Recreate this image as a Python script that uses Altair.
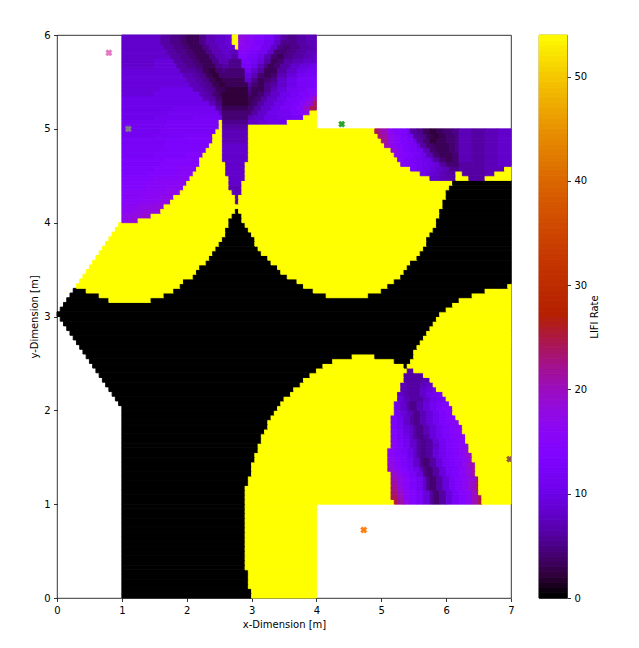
import altair as alt
import pandas as pd

# Each row is one 0.05 m band, bottom to top. "a:v" = from a (1/20 m) the rate is v; last token = end of row.
rows = [
"20:0 60:54 80","20:0 60:54 80","20:0 59:54 80","20:0 59:54 80","20:0 59:54 80","20:0 59:54 80",
"20:0 58:54 80","20:0 58:54 80","20:0 58:54 80","20:0 58:54 80","20:0 58:54 80","20:0 58:54 80",
"20:0 58:54 80","20:0 58:54 80","20:0 58:54 80","20:0 58:54 80","20:0 58:54 80","20:0 58:54 80",
"20:0 58:54 80","20:0 58:54 80",
"20:0 58:54 104:25 105:21 107:17 109:14 111:12 113:9 115:6 116:4 118:6 120:9 122:12 124:14 126:16 128:20 130:25 131:54 140",
"20:0 58:54 103:24 105:20 107:16 109:14 111:12 113:9 115:6 116:4 118:6 120:9 122:12 124:14 126:16 128:20 130:24 131:54 140",
"20:0 58:54 103:23 105:19 107:16 109:14 111:12 113:9 115:6 116:4 118:6 120:9 122:12 124:14 126:16 128:20 130:54 140",
"20:0 58:54 103:22 105:18 107:15 109:13 111:11 113:8 114:5 115:4 117:6 119:9 121:12 123:14 125:16 127:19 129:23 130:54 140",
"20:0 59:54 103:21 105:17 107:15 109:13 111:11 113:8 114:5 115:4 117:6 119:9 121:12 123:14 125:16 127:19 129:23 130:54 140",
"20:0 59:54 103:20 105:17 107:15 109:13 111:11 113:8 114:5 115:4 117:6 119:9 121:12 123:14 125:16 127:18 129:22 130:54 140",
"20:0 60:54 103:19 105:16 107:14 109:12 111:9 113:5 114:4 116:6 118:9 120:12 122:13 124:15 126:18 128:21 129:54 140",
"20:0 60:54 102:19 104:16 106:14 108:12 110:10 112:7 113:5 114:4 116:6 118:9 120:12 122:13 124:15 126:18 128:21 129:54 140",
"20:0 60:54 102:18 104:15 106:13 108:11 110:8 112:5 113:4 115:6 117:9 119:12 121:13 123:14 125:17 127:20 129:54 140",
"20:0 61:54 102:17 104:15 106:13 108:11 110:8 112:5 113:4 115:6 117:9 119:12 121:13 123:14 125:16 127:19 128:54 140",
"20:0 61:54 102:16 104:14 106:13 108:10 110:8 111:6 112:5 114:6 116:9 118:11 120:13 122:14 124:16 126:19 128:54 140",
"20:0 62:54 102:16 104:14 106:12 108:10 110:8 111:6 112:5 114:6 116:9 118:11 120:13 122:14 124:16 126:18 127:54 140",
"20:0 62:54 103:15 105:13 107:11 109:8 111:6 112:5 114:6 116:8 118:11 120:13 122:14 124:15 126:18 127:54 140",
"20:0 63:54 103:15 105:13 107:11 109:8 111:6 112:5 114:6 116:9 118:11 120:13 122:14 124:15 126:54 140",
"20:0 63:54 103:14 105:12 107:10 109:8 110:6 111:5 113:6 115:9 117:11 119:13 121:14 123:15 125:17 126:54 140",
"20:0 64:54 103:14 105:12 107:9 109:8 110:6 111:5 113:7 115:9 117:11 119:13 121:14 123:15 125:54 140",
"20:0 65:54 103:13 105:11 107:9 109:8 110:6 111:5 113:7 115:9 117:11 119:13 121:14 123:15 125:54 140",
"20:0 65:54 103:13 105:11 107:8 109:6 110:5 112:7 114:9 116:11 118:13 120:14 122:15 124:54 140",
"20:0 66:54 103:12 105:10 107:8 109:6 110:5 112:7 114:9 116:11 118:13 120:14 122:14 123:54 140",
"20:0 67:54 104:11 106:9 108:7 110:5 112:7 114:9 116:11 118:13 120:14 122:54 140",
"20:0 68:54 104:10 106:8 108:6 109:5 111:7 113:9 115:11 117:13 119:14 122:54 140",
"19:0 69:54 104:10 106:8 108:6 109:5 111:7 113:9 115:11 117:12 119:13 121:54 140",
"18:0 70:54 105:9 107:7 109:6 111:6 113:8 115:10 117:11 119:12 120:54 140",
"17:0 72:54 105:8 107:7 108:6 110:6 112:8 114:10 116:11 118:12 119:54 140",
"16:0 73:54 106:7 108:6 110:6 112:8 114:9 116:10 117:54 140",
"15:0 75:54 106:7 108:6 110:6 112:7 114:8 116:54 140",
"14:0 76:54 107:6 109:6 111:6 113:7 115:54 140",
"13:0 78:54 107:6 109:6 111:6 113:54 140",
"12:0 80:54 108:6 110:54 140",
"11:0 82:54 107:0 108:54 140",
"10:0 85:54 104:0 109:54 140",
"9:0 91:54 98:0 110:54 140",
"8:0 110:54 140","7:0 111:54 140","6:0 112:54 140","5:0 113:54 140","4:0 114:54 140",
"3:0 115:54 140","2:0 116:54 140","1:0 117:54 140","0:0 118:54 140","1:0 120:54 140","2:0 122:54 140",
"3:0 16:54 29:0 124:54 140",
"4:0 13:54 33:0 83:54 96:0 128:54 140",
"5:0 9:54 36:0 79:54 100:0 132:54 140",
"6:54 38:0 76:54 102:0 139:54 140",
"7:54 39:0 74:54 104:0 140",
"8:54 42:0 71:54 106:0 140",
"9:54 43:0 69:54 107:0 140",
"10:54 44:0 68:54 108:0 140",
"11:54 46:0 66:54 109:0 140",
"12:54 47:0 65:54 111:0 140",
"13:54 48:0 63:54 112:0 140",
"14:54 49:0 62:54 113:0 140",
"15:54 50:0 61:54 114:0 140",
"16:54 51:0 61:54 114:0 140",
"17:54 52:0 60:54 115:0 140",
"18:54 52:0 59:54 116:0 140",
"19:54 53:0 58:54 117:0 140",
"20:17 22:18 24:19 25:54 53:0 57:54 117:0 140",
"20:17 23:18 26:19 29:54 54:0 57:54 118:0 140",
"20:16 23:17 27:18 32:54 55:0 56:54 118:0 140",
"20:16 25:17 29:18 33:54 119:0 140",
"20:15 26:16 31:17 35:54 55:6 56:54 119:0 140",
"20:15 26:16 32:17 36:54 55:7 56:54 120:0 140",
"20:15 28:16 34:17 38:54 54:7 57:54 120:0 140",
"20:14 27:15 33:16 39:54 53:7 57:54 121:0 140",
"20:14 28:15 35:16 40:54 53:8 57:54 122:0 140",
"20:14 30:15 38:16 41:54 53:8 58:54 115:8 118:7 121:6 123:54 127:6 132:54 140",
"20:13 28:14 36:15 42:54 52:8 58:54 112:10 114:9 116:8 118:7 120:6 123:54 125:6 128:6 132:7 135:54 140",
"20:13 30:14 38:15 43:54 52:8 58:54 109:13 111:11 113:10 115:9 117:8 119:7 121:5 124:6 128:6 132:7 138:54 140",
"20:13 32:14 44:54 52:8 58:54 106:14 108:13 110:12 112:11 114:10 116:9 118:6 120:4 122:4 124:6 128:6 132:7 136:8 140",
"20:13 33:14 44:54 51:8 59:54 105:15 107:13 109:12 111:11 113:10 115:9 116:6 118:4 120:3 122:4 124:7 128:6 132:7 136:8 140",
"20:12 30:13 40:14 45:54 51:8 59:54 104:16 106:14 108:13 110:12 112:10 114:7 116:4 118:3 120:3 122:4 124:7 128:6 132:7 136:8 140",
"20:12 32:13 46:54 51:8 59:54 103:18 105:15 107:13 109:12 111:11 113:7 115:4 117:3 119:3 121:4 123:5 124:7 128:6 132:7 136:8 140",
"20:12 33:13 47:54 51:8 59:54 101:20 103:16 105:14 107:13 109:12 111:10 112:6 114:4 116:3 118:3 121:4 123:5 124:7 128:6 132:7 136:8 140",
"20:12 34:13 48:54 51:7 59:54 100:22 102:17 104:15 106:13 108:12 110:10 111:6 113:4 115:2 117:3 120:4 123:5 124:7 128:6 132:7 136:8 140",
"20:11 30:12 40:13 48:54 51:7 59:54 99:23 100:21 102:17 104:15 106:13 108:11 110:6 112:5 114:3 116:2 118:3 120:4 123:5 124:7 128:6 132:7 136:8 140",
"20:11 32:12 49:54 51:7 59:54 98:24 99:22 100:20 102:16 104:14 106:13 108:11 109:6 111:5 113:3 115:2 117:3 119:4 122:5 124:7 128:6 132:7 136:8 140",
"20:11 33:12 50:54 51:6 59:54 80",
"20:11 34:12 50:54 51:5 59:8 62:9 65:10 71:54 80",
"20:10 30:11 42:12 51:4 59:7 61:8 64:10 68:11 72:12 76:54 80",
"20:10 34:11 50:7 51:4 60:6 62:8 65:10 68:11 72:13 75:15 77:18 78:54 80",
"20:10 36:11 49:6 51:3 59:4 61:6 63:8 66:10 69:12 72:13 74:15 76:19 78:24 80",
"20:10 47:7 49:5 51:2 59:3 60:4 62:6 64:8 67:10 70:12 73:13 75:15 77:18 79:24 80",
"20:10 45:7 47:6 49:4 51:2 59:3 61:4 63:6 65:8 68:10 71:12 74:13 76:14 78:17 79:20 80",
"20:9 30:10 44:7 46:6 48:4 50:3 51:2 59:4 60:3 62:4 64:6 66:8 69:10 72:12 75:13 78:15 80",
"20:9 32:10 42:7 45:6 47:5 49:3 52:2 59:5 60:3 62:3 64:5 66:7 68:9 71:11 74:12 77:14 80",
"20:9 41:7 44:6 46:5 48:3 50:2 52:3 59:6 60:4 62:3 64:5 66:6 68:8 71:10 74:12 78:13 80",
"20:9 40:7 43:6 45:5 47:3 49:2 51:3 52:3 58:8 60:5 62:3 64:4 66:5 68:8 71:10 74:12 78:13 80",
"20:9 39:7 42:6 44:5 46:3 48:2 50:4 52:4 58:9 60:7 62:4 64:3 66:4 68:7 71:9 74:11 77:12 80",
"20:9 38:6 41:6 43:5 45:3 47:2 49:4 51:5 52:4 58:11 60:8 62:6 64:3 66:3 68:6 71:8 74:10 77:11 80",
"20:8 30:9 37:6 40:5 43:4 45:3 47:3 49:5 51:6 53:5 57:12 60:10 62:7 64:5 65:3 67:4 69:6 72:8 75:9 78:10 80",
"20:8 30:9 36:6 39:5 42:4 44:3 46:3 48:5 50:7 53:5 57:13 60:11 62:9 64:6 66:3 68:4 70:6 73:7 76:8 80",
"20:8 35:6 38:5 41:4 43:3 45:3 47:5 49:7 52:8 54:6 56:14 59:12 62:10 64:7 66:4 68:3 70:5 73:6 76:7 79:8 80",
"20:8 34:6 37:5 40:4 42:3 44:3 46:5 48:7 51:8 54:7 56:15 59:13 62:11 65:8 67:4 69:4 71:5 74:6 77:7 80",
"20:8 33:6 36:5 39:4 41:3 43:3 45:5 47:7 50:8 53:9 55:54 56:16 60:14 63:11 66:8 68:5 70:4 72:5 75:6 78:7 80",
"20:8 32:6 35:5 38:4 40:3 42:3 44:5 46:7 49:8 52:9 54:54 56:17 58:15 61:13 64:11 67:8 69:5 71:5 74:6 77:7 80",
"20:8 32:6 35:5 38:4 40:3 42:3 44:5 46:7 49:8 52:9 54:54 56:18 58:16 61:14 64:12 67:9 69:6 71:5 74:6 77:7 80",
]

marker_x = [0.80, 1.10, 4.39, 4.73, 6.98]
marker_y = [5.81, 5.00, 5.05, 0.725, 1.48]
marker_c = ["#e377c2", "#7f7f7f", "#2ca02c", "#ff7f0e", "#8c564b"]

stop_values = [0, 2, 4, 6, 8, 10, 13.5, 16, 18, 20, 22, 24, 27, 32, 38, 44, 50, 54]
stop_colors = ["#000000", "#31003b", "#450072", "#5500a4", "#6201cc", "#6e02ea", "#8004ff", "#8b07f4",
               "#930ade", "#9b0dba", "#a3118e", "#aa1657", "#b42000", "#c43500", "#d65900", "#e68a00",
               "#f5ca00", "#ffff00"]
bar_levels = [i / 2 for i in range(108)]
x_ticks = [0, 1, 2, 3, 4, 5, 6, 7]
y_ticks = [0, 1, 2, 3, 4, 5, 6]
bar_ticks = [0, 10, 20, 30, 40, 50]

recs = []
for j, row in enumerate(rows):
    toks = row.split()
    for a, b in zip(toks[:-1], toks[1:]):
        x0, v = a.split(":")
        x1 = b.split(":")[0]
        recs.append({"x": int(x0) / 20, "x2": int(x1) / 20, "y": j / 20, "y2": (j + 1) / 20, "v": float(v)})
cells = pd.DataFrame(recs)

cscale = alt.Scale(domain=stop_values, range=stop_colors, interpolate="rgb")
xs = alt.Scale(domain=[0, 7], nice=False)
ys = alt.Scale(domain=[0, 6], nice=False)

heat = alt.Chart(cells).mark_rect(strokeWidth=0.9).encode(
    x=alt.X("x:Q", scale=xs, axis=alt.Axis(values=x_ticks, title="x-Dimension [m]", format="d")),
    x2="x2",
    y=alt.Y("y:Q", scale=ys, axis=alt.Axis(values=y_ticks, title="y-Dimension [m]", format="d")),
    y2="y2",
    color=alt.Color("v:Q", scale=cscale, legend=None),
    stroke=alt.Stroke("v:Q", scale=cscale, legend=None),
)
pts = alt.Chart(pd.DataFrame({"x": marker_x, "y": marker_y, "c": marker_c})).mark_point(
    shape="cross", angle=45, filled=True, size=42, opacity=1, strokeWidth=0.5, clip=True
).encode(x=alt.X("x:Q", scale=xs), y=alt.Y("y:Q", scale=ys),
         color=alt.Color("c:N", scale=None), stroke=alt.Stroke("c:N", scale=None))
main = alt.layer(heat, pts).resolve_scale(color="independent", stroke="independent").properties(width=454, height=563)

bar = alt.Chart(pd.DataFrame({"y": bar_levels, "y2": [v + 0.5 for v in bar_levels]})).mark_rect(strokeWidth=0.9).encode(
    y=alt.Y("y:Q", scale=alt.Scale(domain=[0, 54], nice=False),
            axis=alt.Axis(orient="right", values=bar_ticks, title="LIFI Rate", titleAngle=270, format="d", titlePadding=13)),
    y2="y2",
    color=alt.Color("y:Q", scale=cscale, legend=None),
    stroke=alt.Stroke("y:Q", scale=cscale, legend=None),
).properties(width=28, height=563)

chart = alt.hconcat(main, bar, spacing=23).resolve_scale(color="independent", stroke="independent").properties(
    background="white", padding={"left": 21, "top": 21, "right": 5, "bottom": 5}
).configure_view(stroke="black", strokeWidth=0.8).configure_axis(
    grid=False, domain=False, tickColor="black", tickSize=3.5, tickWidth=0.8, labelFlush=False,
    labelColor="black", labelFontSize=10, labelFont="DejaVu Sans", labelPadding=3.5,
    titleColor="black", titleFontSize=10, titleFont="DejaVu Sans", titleFontWeight="normal", titlePadding=4,
)
chart.save("out.html", embed_options={"renderer": "svg", "actions": False})
